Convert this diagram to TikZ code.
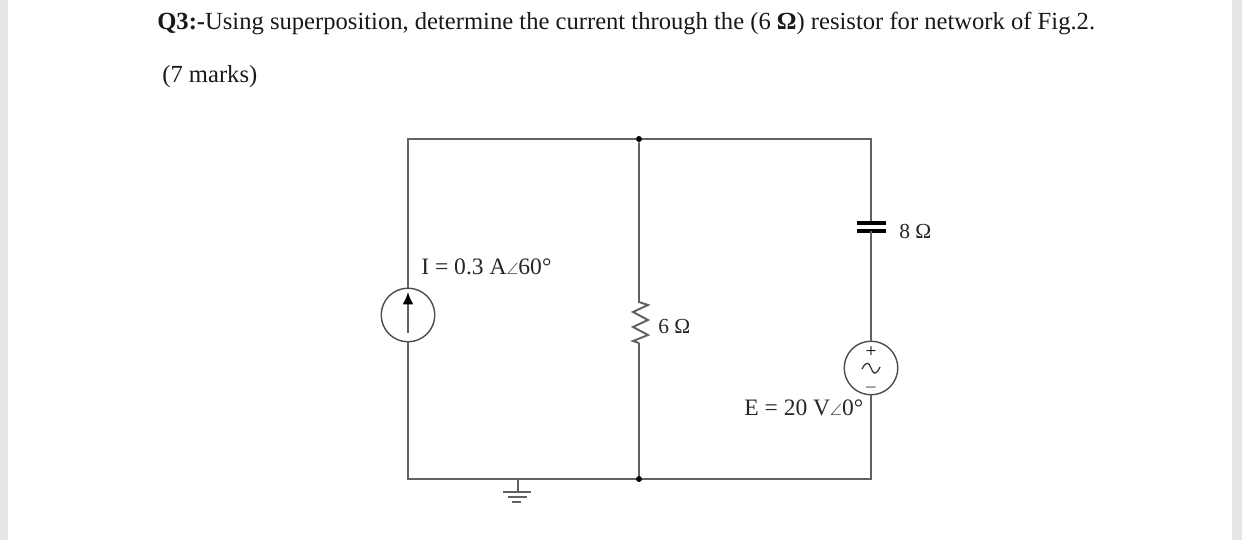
\documentclass[tikz,border=0pt]{standalone}
\usepackage{amssymb}
\usepackage{fontspec}
\setmainfont{Liberation Serif}
\usetikzlibrary{arrows.meta}
\tikzset{
  wire/.style={draw=black!62, line width=1.1pt},
  source/.style={circle, draw=black!70, line width=0.8pt, minimum size=30.5pt, inner sep=0pt},
  junction/.style={circle, fill=black, minimum size=3.4pt, inner sep=0pt},
  question/.style={anchor=base west, inner sep=0pt, font=\fontsize{14}{16}\selectfont, text=black!90},
  value/.style={anchor=base west, inner sep=0pt, font=\fontsize{12.2}{14}\selectfont, text=black!85},
  longvalue/.style={value, font=\fontsize{13.4}{15}\selectfont}
}
\begin{document}
\begin{tikzpicture}[x=0.02cm, y=-0.02cm]
    % Page
    \useasboundingbox (0,0) rectangle (1242,540);
    \fill [black!10] (0,0) rectangle (8,540);
    \fill [black!10] (1232,0) rectangle (1242,540);
    % Question text
    \node [question] (q3) at (157,29.5) {\textbf{Q3:-}Using superposition, determine the current through the (6 \textbf{Ω}) resistor for network of Fig.2.};
    \node [question] (marks) at (162,82.5) {(7 marks)};
    % Corners of the network
    \coordinate (tl) at (408,139);
    \coordinate (tr) at (871,139);
    \coordinate (bl) at (408,479);
    \coordinate (br) at (871,479);
    \node [junction] (top) at (639,139) {};
    \node [junction] (bot) at (639,479) {};
    % Current source
    \node [source] (isrc) at (408,315) {};
    \coordinate (itail) at (408,333);
    \coordinate (ihead) at (408,292);
    \draw [wire, -{Latex[length=7pt,width=6pt,black]}] (itail) -- (ihead);
    \draw [wire] (isrc) -- (tl) -- (top);
    \draw [wire] (isrc) -- (bl) -- (bot);
    \node [longvalue] (ilabel) at (421,275) {I = 0.3 A${\scriptstyle\angle}$60°};
    % Resistor
    \coordinate (rtop) at (639,302);
    \coordinate (rbot) at (639,343);
    \draw [wire] (top) -- (rtop) -- ++(9,3) -- ++(-15,7) -- ++(15,8) -- ++(-15,7) -- ++(15,8) -- ++(-15,6) -- (rbot);
    \draw [wire] (rbot) -- (bot);
    \node [value] (rlabel) at (658,334) {6 Ω};
    % Capacitor
    \coordinate (cup) at (871,223);
    \coordinate (cdown) at (871,231);
    \draw [wire] (top) -- (tr) -- (cup);
    \draw [line width=2pt] (857,223) -- (886,223);
    \draw [line width=2pt] (857,231) -- (886,231);
    \node [value] (clabel) at (899,239) {8 Ω};
    % Voltage source
    \node [source] (vsrc) at (871,368) {};
    \draw [wire] (cdown) -- (vsrc);
    \draw [wire] (vsrc) -- (br) -- (bot);
    \node [inner sep=0pt, font=\fontsize{11}{11}\selectfont] (vplus) at (871,352) {+};
    \node [inner sep=0pt, font=\fontsize{9}{9}\selectfont] (vminus) at (871,388) {$-$};
    \draw [line width=0.7pt, black!80] (862,369) .. controls (866,361) and (869,362) .. (871,368) .. controls (873,374) and (876,376) .. (880,367);
    \node [longvalue] (vlabel) at (744,416) {E = 20 V${\scriptstyle\angle}$0°};
    % Ground
    \coordinate (gtap) at (518,479);
    \coordinate (gbar) at (518,492);
    \draw [wire] (gtap) -- (gbar);
    \draw [wire] (503,492) -- (531,492);
    \draw [wire] (508,497) -- (527,497);
    \draw [wire] (512,502) -- (521,502);
\end{tikzpicture}
\end{document}
